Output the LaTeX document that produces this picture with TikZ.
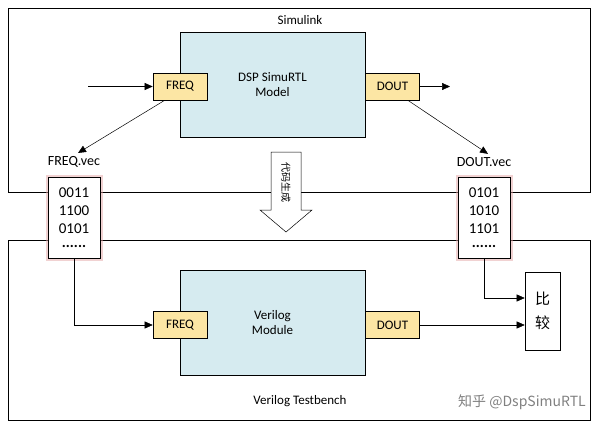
\documentclass[tikz,border=0pt]{standalone}
\usepackage{fontspec}
\setmainfont{Carlito}
\newfontfamily\cjk{Noto Sans CJK SC}
\usetikzlibrary{arrows.meta}
\definecolor{mblue}{HTML}{D6EBF0}
\definecolor{myel}{HTML}{FCE6A4}
\definecolor{glow}{HTML}{E3A5A5}
\begin{document}
\begin{tikzpicture}[x=1pt,y=-1pt,font=\fontsize{13}{15.5}\selectfont,
  frame/.style={draw=black,line width=0.8pt},
  model/.style={draw=black,fill=mblue,line width=0.6pt,minimum width=185pt,minimum height=105pt,align=center,inner sep=0pt},
  port/.style={draw=black,fill=myel,line width=0.6pt,minimum width=54pt,minimum height=27pt,inner sep=0pt},
  vec/.style={draw=black,fill=white,line width=0.9pt,minimum width=52pt,minimum height=81pt,align=center,inner sep=0pt,
    font=\fontsize{15}{18}\selectfont,preaction={draw=glow,line width=5pt,opacity=0.5}},
  arr/.style={-{Triangle[length=8pt,width=7pt]},line width=0.5pt}]
\useasboundingbox (0,0) rectangle (600,428);
\draw[frame] (8,8) rectangle (590,192);
\draw[frame] (8,240) rectangle (590,420);
\node (sim) at (300,20) {Simulink};
\node (tb) at (300,401) {Verilog Testbench};
\node[model] (dsp) at (272.5,84.5) {DSP SimuRTL\\Model};
\node[port] (f1) at (180,86.5) {FREQ};
\node[port] (d1) at (392.5,86.5) {DOUT};
\coordinate (in) at (88,86.5);
\coordinate (out) at (450,86.5);
\draw[arr] (in) -- (f1);
\draw[arr] (d1) -- (out);
\node[font=\fontsize{14}{16}\selectfont] (fl) at (74,162) {FREQ.vec};
\node[font=\fontsize{14}{16}\selectfont] (dl) at (484,162) {DOUT.vec};
\draw[arr] ([xshift=12pt]f1.south west) -- ([xshift=4pt]fl.north);
\draw[arr] ([xshift=-12pt]d1.south east) -- ([xshift=4pt]dl.north);
\node[vec] (fv) at (74,217.5) {0011\\1100\\0101\\[-4pt]\textbf{......}};
\node[vec] (dv) at (484,217.5) {0101\\1010\\1101\\[-4pt]\textbf{......}};
\draw[line width=0.5pt,fill=white] (271,152) -- (301,152) -- (301,210) -- (312,210) -- (286,232) -- (260,210) -- (271,210) -- cycle;
\node[rotate=-90,font=\cjk\fontsize{10}{12}\selectfont] (gt) at (286,182) {代码生成};
\node[model] (vm) at (272.5,322.5) {Verilog\\Module};
\node[port] (f2) at (180,325) {FREQ};
\node[port] (d2) at (392.5,325) {DOUT};
\node[draw=black,fill=white,line width=0.6pt,minimum width=35pt,minimum height=78pt,align=center,inner sep=0pt,font=\cjk\fontsize{15}{24}\selectfont] (cmp) at (542.5,311) {比\\较};
\draw[arr] (fv.south) |- (f2.west);
\draw[arr] (d2.east) -- (d2.east -| cmp.west);
\draw[arr] (dv.south) |- (cmp.west |- 0,298);
\node[text=gray,font=\cjk\fontsize{14}{16}\selectfont] (wm) at (522,402) {知乎 @DspSimuRTL};
\end{tikzpicture}
\end{document}
